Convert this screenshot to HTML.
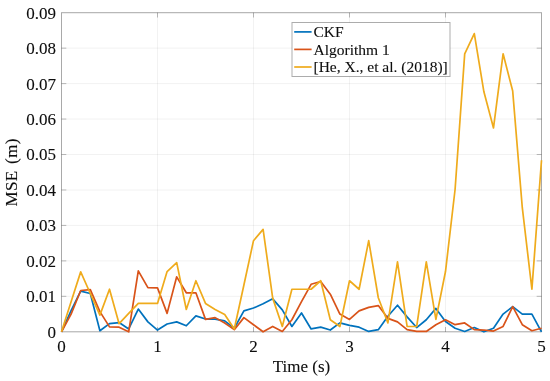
<!DOCTYPE html>
<html><head><meta charset="utf-8"><title>MSE plot</title>
<style>
html,body{margin:0;padding:0;background:#fff;}
body{width:550px;height:381px;overflow:hidden;}
svg{display:block;}
text{font-family:"Liberation Serif","Times New Roman",serif;fill:#0d0d0d;stroke:#0d0d0d;stroke-width:0.1px;}
.tl text{font-size:17px;}
.grid line{stroke:#262626;stroke-opacity:0.06;stroke-width:1;}
.tk line{stroke:#262626;stroke-opacity:0.3;stroke-width:1;}
.ser{fill:none;stroke-width:1.7;stroke-linejoin:round;stroke-linecap:butt;}
</style></head><body>
<svg width="550" height="381" viewBox="0 0 550 381">
<rect x="0" y="0" width="550" height="381" fill="#fff"/>
<g class="grid"><line x1="61.5" y1="12.7" x2="61.5" y2="331.8"/><line x1="157.5" y1="12.7" x2="157.5" y2="331.8"/><line x1="253.5" y1="12.7" x2="253.5" y2="331.8"/><line x1="349.5" y1="12.7" x2="349.5" y2="331.8"/><line x1="445.5" y1="12.7" x2="445.5" y2="331.8"/><line x1="541.5" y1="12.7" x2="541.5" y2="331.8"/><line x1="61.5" y1="331.80" x2="541.5" y2="331.80"/><line x1="61.5" y1="296.34" x2="541.5" y2="296.34"/><line x1="61.5" y1="260.89" x2="541.5" y2="260.89"/><line x1="61.5" y1="225.43" x2="541.5" y2="225.43"/><line x1="61.5" y1="189.98" x2="541.5" y2="189.98"/><line x1="61.5" y1="154.52" x2="541.5" y2="154.52"/><line x1="61.5" y1="119.07" x2="541.5" y2="119.07"/><line x1="61.5" y1="83.61" x2="541.5" y2="83.61"/><line x1="61.5" y1="48.16" x2="541.5" y2="48.16"/><line x1="61.5" y1="12.70" x2="541.5" y2="12.70"/></g>
<g class="tk"><line x1="157.5" y1="331.8" x2="157.5" y2="327.0"/><line x1="157.5" y1="12.7" x2="157.5" y2="17.5"/><line x1="253.5" y1="331.8" x2="253.5" y2="327.0"/><line x1="253.5" y1="12.7" x2="253.5" y2="17.5"/><line x1="349.5" y1="331.8" x2="349.5" y2="327.0"/><line x1="349.5" y1="12.7" x2="349.5" y2="17.5"/><line x1="445.5" y1="331.8" x2="445.5" y2="327.0"/><line x1="445.5" y1="12.7" x2="445.5" y2="17.5"/><line x1="61.5" y1="296.34" x2="66.3" y2="296.34"/><line x1="541.5" y1="296.34" x2="536.7" y2="296.34"/><line x1="61.5" y1="260.89" x2="66.3" y2="260.89"/><line x1="541.5" y1="260.89" x2="536.7" y2="260.89"/><line x1="61.5" y1="225.43" x2="66.3" y2="225.43"/><line x1="541.5" y1="225.43" x2="536.7" y2="225.43"/><line x1="61.5" y1="189.98" x2="66.3" y2="189.98"/><line x1="541.5" y1="189.98" x2="536.7" y2="189.98"/><line x1="61.5" y1="154.52" x2="66.3" y2="154.52"/><line x1="541.5" y1="154.52" x2="536.7" y2="154.52"/><line x1="61.5" y1="119.07" x2="66.3" y2="119.07"/><line x1="541.5" y1="119.07" x2="536.7" y2="119.07"/><line x1="61.5" y1="83.61" x2="66.3" y2="83.61"/><line x1="541.5" y1="83.61" x2="536.7" y2="83.61"/><line x1="61.5" y1="48.16" x2="66.3" y2="48.16"/><line x1="541.5" y1="48.16" x2="536.7" y2="48.16"/></g>
<rect x="61.5" y="12.7" width="480.0" height="319.1" fill="none" stroke="#262626" stroke-opacity="0.36" stroke-width="1"/>
<polyline class="ser" stroke="#0072BD" points="61.50,331.80 71.10,310.53 80.70,291.17 90.30,293.51 99.90,330.74 109.50,323.65 119.10,322.58 128.70,328.96 138.30,309.11 147.90,321.87 157.50,330.03 167.10,324.00 176.70,321.87 186.30,325.77 195.90,315.85 205.50,319.04 215.10,319.04 224.70,320.81 234.30,328.25 243.90,310.88 253.50,308.04 263.10,303.79 272.70,298.83 282.30,309.82 291.90,326.48 301.50,313.01 311.10,328.96 320.70,327.19 330.30,330.03 339.90,322.94 349.50,325.42 359.10,327.19 368.70,331.45 378.30,329.67 387.90,316.20 397.50,305.21 407.10,316.91 416.70,327.55 426.30,319.75 435.90,308.40 445.50,321.52 455.10,328.25 464.70,331.45 474.30,327.55 483.90,331.80 493.50,328.25 503.10,314.07 512.70,306.63 522.30,314.07 531.90,314.07 541.50,331.80"/>
<polyline class="ser" stroke="#D95319" points="61.50,331.80 71.10,314.07 80.70,290.49 90.30,289.61 99.90,311.59 109.50,326.84 119.10,327.19 128.70,331.80 138.30,270.82 147.90,287.59 157.50,287.84 167.10,313.36 176.70,276.84 186.30,292.80 195.90,292.80 205.50,319.39 215.10,317.62 224.70,322.94 234.30,329.67 243.90,317.62 253.50,324.71 263.10,331.80 272.70,326.48 282.30,331.45 291.90,319.75 301.50,301.66 311.10,284.29 320.70,281.45 330.30,294.22 339.90,314.07 349.50,319.39 359.10,310.88 368.70,307.34 378.30,305.56 387.90,318.33 397.50,321.87 407.10,329.67 416.70,331.45 426.30,331.45 435.90,324.71 445.50,319.75 455.10,324.71 464.70,322.94 474.30,329.67 483.90,330.03 493.50,331.09 503.10,326.48 512.70,306.63 522.30,324.71 531.90,330.74 541.50,328.25"/>
<polyline class="ser" stroke="#EFAB1C" points="61.50,331.80 71.10,301.66 80.70,271.88 90.30,293.51 99.90,315.14 109.50,289.25 119.10,323.65 128.70,313.36 138.30,303.44 147.90,303.44 157.50,303.44 167.10,271.53 176.70,262.66 186.30,309.46 195.90,280.74 205.50,303.44 215.10,309.46 224.70,314.43 234.30,328.96 243.90,285.00 253.50,240.68 263.10,229.33 272.70,298.12 282.30,326.48 291.90,289.25 301.50,289.25 311.10,289.25 320.70,280.74 330.30,319.75 339.90,326.48 349.50,280.74 359.10,289.25 368.70,240.68 378.30,297.76 387.90,322.94 397.50,261.95 407.10,326.48 416.70,326.48 426.30,261.95 435.90,319.39 445.50,271.53 455.10,189.27 464.70,53.83 474.30,33.62 483.90,91.77 493.50,127.93 503.10,53.83 512.70,91.06 522.30,207.71 531.90,289.25 541.50,160.20"/>
<g class="tl"><text x="61.5" y="352.3" text-anchor="middle">0</text><text x="157.5" y="352.3" text-anchor="middle">1</text><text x="253.5" y="352.3" text-anchor="middle">2</text><text x="349.5" y="352.3" text-anchor="middle">3</text><text x="445.5" y="352.3" text-anchor="middle">4</text><text x="541.5" y="352.3" text-anchor="middle">5</text><text x="56" y="337.70" text-anchor="end">0</text><text x="56" y="302.24" text-anchor="end">0.01</text><text x="56" y="266.79" text-anchor="end">0.02</text><text x="56" y="231.33" text-anchor="end">0.03</text><text x="56" y="195.88" text-anchor="end">0.04</text><text x="56" y="160.42" text-anchor="end">0.05</text><text x="56" y="124.97" text-anchor="end">0.06</text><text x="56" y="89.51" text-anchor="end">0.07</text><text x="56" y="54.06" text-anchor="end">0.08</text><text x="56" y="18.60" text-anchor="end">0.09</text></g>
<text x="301.5" y="371.8" text-anchor="middle" font-size="17">Time (s)</text>
<text transform="translate(17.3,206.5) rotate(-90)" text-anchor="start" font-size="17" letter-spacing="0.4" word-spacing="1.8">MSE (m)</text>
<rect x="292" y="22.5" width="158" height="54" fill="#fff" stroke="#262626" stroke-opacity="0.38" stroke-width="1"/>
<line x1="294.2" y1="31.9" x2="311.6" y2="31.9" stroke="#0072BD" stroke-width="1.7"/>
<line x1="294.2" y1="49.4" x2="311.6" y2="49.4" stroke="#D95319" stroke-width="1.7"/>
<line x1="294.2" y1="67" x2="311.6" y2="67" stroke="#EFAB1C" stroke-width="1.7"/>
<g font-size="15.5">
<text x="313.5" y="37.1">CKF</text>
<text x="313.5" y="54.5">Algorithm 1</text>
<text x="313.5" y="71.9">[He, X., et al. (2018)]</text>
</g>
</svg>
</body></html>
